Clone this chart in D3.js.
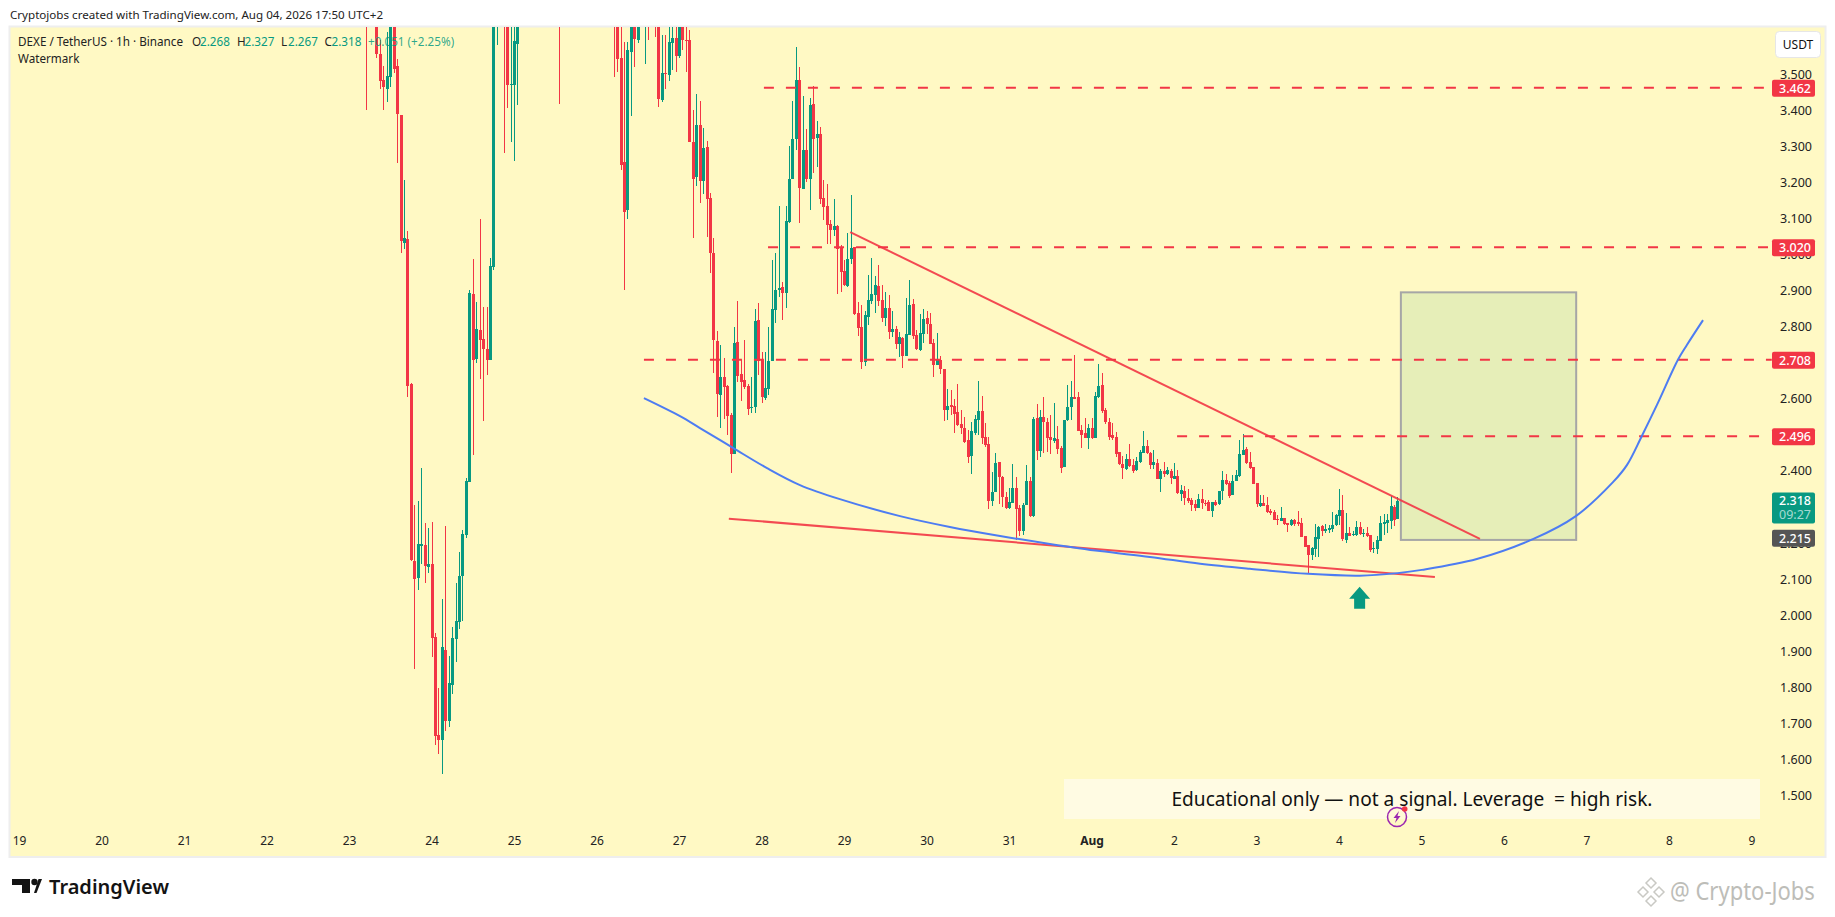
<!doctype html>
<html>
<head>
<title>DEXE / TetherUS</title>
<meta charset="UTF-8">
<script src="https://d3js.org/d3.v7.min.js"></script>
<style>
  html, body { margin: 0; padding: 0; background: #fff; overflow: hidden; }
  svg { display: block; }
  text { font-family: "Noto Sans", sans-serif; }
</style>
</head>
<body>
<script>
// hourly candles, hour 0 = Jul 19 00:00, first candle sits at hour 101
var firstHour = 101;
var opens = [
3.90,3.80,3.85,3.78,3.555,3.483,3.458,3.492,3.70,3.522,
3.386,3.032,3.043,2.641,2.151,2.103,2.192,2.195,2.134,2.142,
1.940,1.668,1.655,1.904,1.707,1.807,1.934,1.982,2.109,2.223,
2.369,2.890,2.710,2.791,2.766,2.738,2.708,2.965,3.72,3.85,
3.95,3.80,3.469,3.469,3.583,3.78,3.90,4.02,4.10,4.02,
3.96,4.06,3.98,3.92,3.98,3.90,3.84,3.76,3.86,3.94,
4.02,3.96,4.04,4.12,4.06,3.98,3.92,3.98,3.90,3.96,
3.88,3.84,3.80,3.76,3.544,3.256,3.123,3.561,3.72,3.594,
3.68,3.70,3.78,3.70,3.74,3.68,3.428,3.503,3.497,3.586,
3.600,3.550,3.66,3.594,3.594,3.312,3.215,3.359,3.204,3.298,
3.156,3.004,2.760,2.611,2.660,2.635,2.555,2.447,2.757,2.669,
2.652,2.635,2.575,2.577,2.818,2.708,2.602,2.627,2.705,2.846,
2.901,2.910,2.893,3.090,3.209,3.320,3.483,3.181,3.289,3.209,
3.417,3.323,3.334,3.156,3.134,3.084,3.068,3.079,3.018,2.954,
2.912,2.987,3.021,2.838,2.799,2.702,2.827,2.871,2.888,2.912,
2.874,2.824,2.852,2.785,2.793,2.752,2.769,2.719,2.777,2.863,
2.777,2.735,2.780,2.824,2.807,2.755,2.694,2.708,2.683,2.569,
2.583,2.580,2.563,2.530,2.519,2.486,2.442,2.505,2.541,2.566,
2.494,2.475,2.317,2.342,2.425,2.383,2.328,2.297,2.311,2.353,
2.297,2.234,2.306,2.372,2.275,2.547,2.455,2.549,2.536,2.494,
2.483,2.489,2.464,2.411,2.541,2.577,2.605,2.605,2.514,2.505,
2.491,2.519,2.491,2.605,2.638,2.569,2.536,2.500,2.494,2.453,
2.419,2.405,2.433,2.417,2.403,2.425,2.450,2.469,2.450,2.417,
2.422,2.378,2.400,2.392,2.400,2.378,2.386,2.336,2.345,2.325,
2.320,2.309,2.297,2.322,2.311,2.314,2.289,2.314,2.309,2.345,
2.375,2.367,2.333,2.372,2.386,2.444,2.461,2.425,2.411,2.367,
2.303,2.311,2.306,2.289,2.286,2.267,2.261,2.270,2.256,2.250,
2.264,2.259,2.256,2.220,2.195,2.167,2.184,2.212,2.247,2.234,
2.236,2.239,2.250,2.275,2.292,2.209,2.228,2.223,2.223,2.245,
2.225,2.228,2.223,2.184,2.184,2.206,2.253,2.256,2.261,2.300,
2.268];
var closes = [
3.80,3.85,3.78,3.555,3.481,3.464,3.494,3.70,3.514,3.389,
3.037,3.046,2.635,2.153,2.101,2.198,2.198,2.137,2.142,1.937,
1.666,1.655,1.912,1.707,1.813,1.937,1.984,2.109,2.225,2.372,
2.893,2.708,2.793,2.763,2.738,2.708,2.968,3.72,3.85,3.95,
3.80,3.469,3.472,3.591,3.78,3.90,4.02,4.10,4.02,3.96,
4.06,3.98,3.92,3.98,3.90,3.84,3.76,3.86,3.94,4.02,
3.96,4.04,4.12,4.06,3.98,3.92,3.98,3.90,3.96,3.88,
3.84,3.80,3.76,3.542,3.248,3.118,3.566,3.72,3.597,3.68,
3.76,3.78,3.70,3.74,3.68,3.431,3.503,3.500,3.589,3.600,
3.550,3.66,3.594,3.591,3.312,3.209,3.359,3.204,3.295,3.154,
3.004,2.763,2.613,2.660,2.633,2.552,2.447,2.755,2.663,2.647,
2.633,2.572,2.577,2.816,2.705,2.605,2.630,2.705,2.849,2.901,
2.907,2.893,3.093,3.209,3.320,3.483,3.184,3.289,3.209,3.414,
3.320,3.334,3.154,3.131,3.082,3.068,3.079,3.015,2.951,2.915,
2.987,3.018,2.835,2.796,2.702,2.832,2.874,2.890,2.915,2.871,
2.824,2.852,2.785,2.793,2.752,2.771,2.719,2.780,2.860,2.774,
2.738,2.782,2.821,2.807,2.752,2.694,2.710,2.683,2.569,2.580,
2.577,2.558,2.527,2.519,2.480,2.439,2.511,2.544,2.566,2.491,
2.472,2.317,2.342,2.422,2.383,2.328,2.297,2.314,2.353,2.295,
2.234,2.306,2.372,2.275,2.544,2.455,2.549,2.536,2.491,2.486,
2.491,2.461,2.408,2.541,2.577,2.605,2.599,2.511,2.500,2.491,
2.519,2.491,2.608,2.635,2.566,2.536,2.494,2.491,2.447,2.419,
2.408,2.433,2.414,2.400,2.428,2.453,2.469,2.450,2.417,2.425,
2.378,2.400,2.392,2.403,2.381,2.386,2.339,2.347,2.325,2.317,
2.306,2.297,2.322,2.311,2.309,2.289,2.314,2.306,2.345,2.375,
2.364,2.331,2.372,2.389,2.447,2.458,2.422,2.408,2.364,2.309,
2.311,2.303,2.286,2.283,2.264,2.264,2.270,2.253,2.250,2.264,
2.253,2.253,2.217,2.189,2.167,2.187,2.217,2.245,2.234,2.239,
2.242,2.250,2.278,2.292,2.212,2.228,2.220,2.225,2.245,2.225,
2.228,2.220,2.181,2.187,2.209,2.256,2.259,2.264,2.303,2.264,
2.318];
var highs = [
3.95,3.92,3.90,3.82,3.594,3.522,3.616,3.78,3.74,3.542,
3.386,3.206,3.065,2.644,2.306,2.317,2.408,2.256,2.242,2.259,
1.951,1.799,2.045,2.248,1.887,1.968,2.090,2.175,2.236,2.381,
2.901,2.987,2.868,3.098,2.854,2.854,2.990,3.80,3.92,4.02,
3.98,3.86,3.70,3.70,3.85,3.98,4.08,4.18,4.16,4.08,
4.12,4.10,4.02,4.04,4.02,3.94,3.88,3.92,4.00,4.08,
4.06,4.10,4.18,4.16,4.10,4.02,4.04,4.02,4.00,3.98,
3.92,3.88,3.84,3.80,3.70,3.589,3.589,3.80,3.76,3.74,
3.82,3.84,3.82,3.80,3.78,3.74,3.608,3.608,3.66,3.68,
3.66,3.72,3.70,3.66,3.622,3.400,3.445,3.425,3.350,3.314,
3.170,3.046,2.788,2.749,2.713,2.638,2.561,2.799,2.871,2.708,
2.763,2.641,2.660,2.849,2.865,2.730,2.730,2.799,2.985,3.004,
3.134,2.924,3.134,3.300,3.425,3.575,3.519,3.439,3.348,3.433,
3.467,3.370,3.353,3.206,3.195,3.095,3.154,3.082,3.026,2.985,
3.059,3.165,3.021,2.868,2.860,2.843,2.943,2.990,2.940,2.971,
2.915,2.896,2.888,2.843,2.802,2.785,2.771,2.879,2.929,2.877,
2.791,2.835,2.849,2.843,2.838,2.766,2.782,2.719,2.683,2.627,
2.624,2.599,2.641,2.569,2.549,2.514,2.536,2.555,2.649,2.608,
2.533,2.494,2.397,2.450,2.425,2.386,2.342,2.353,2.419,2.383,
2.306,2.311,2.417,2.383,2.549,2.586,2.569,2.605,2.547,2.555,
2.588,2.525,2.469,2.541,2.638,2.649,2.721,2.619,2.527,2.547,
2.530,2.547,2.619,2.696,2.671,2.575,2.547,2.533,2.508,2.453,
2.442,2.447,2.475,2.433,2.439,2.458,2.511,2.486,2.453,2.458,
2.433,2.405,2.425,2.411,2.405,2.422,2.403,2.361,2.358,2.350,
2.325,2.320,2.336,2.350,2.320,2.320,2.314,2.320,2.345,2.400,
2.392,2.372,2.389,2.403,2.486,2.502,2.466,2.453,2.411,2.367,
2.333,2.333,2.328,2.295,2.292,2.278,2.300,2.270,2.256,2.267,
2.267,2.289,2.270,2.220,2.195,2.189,2.253,2.247,2.250,2.253,
2.250,2.286,2.281,2.350,2.333,2.283,2.245,2.234,2.261,2.259,
2.239,2.245,2.223,2.203,2.220,2.275,2.281,2.281,2.331,2.306,
2.327];
var lows = [
3.400,3.72,3.70,3.544,3.458,3.400,3.422,3.464,3.503,3.253,
3.004,3.015,2.605,2.150,1.851,2.070,2.142,2.090,2.117,1.885,
1.641,1.616,1.560,1.680,1.691,1.782,1.871,1.962,1.984,2.214,
2.369,2.444,2.699,2.655,2.538,2.666,2.708,2.957,3.580,3.78,
3.281,3.406,3.312,3.259,3.414,3.72,3.85,3.96,3.94,3.90,
3.92,3.90,3.84,3.86,3.82,3.76,3.417,3.70,3.80,3.88,
3.90,3.90,3.98,4.00,3.92,3.86,3.86,3.84,3.84,3.82,
3.78,3.74,3.492,3.505,3.234,2.901,3.098,3.384,3.519,3.586,
3.64,3.528,3.594,3.64,3.602,3.409,3.422,3.458,3.481,3.511,
3.505,3.544,3.566,3.505,3.312,3.046,3.190,3.142,3.167,3.048,
2.949,2.672,2.549,2.519,2.544,2.500,2.394,2.447,2.647,2.594,
2.627,2.555,2.561,2.561,2.666,2.588,2.597,2.611,2.705,2.810,
2.882,2.818,2.852,3.087,3.209,3.289,3.087,3.181,3.201,3.123,
3.226,3.242,3.140,3.095,3.029,3.029,3.051,2.890,2.896,2.912,
2.910,2.973,2.832,2.774,2.683,2.691,2.804,2.863,2.838,2.857,
2.813,2.802,2.766,2.771,2.738,2.716,2.685,2.719,2.777,2.766,
2.735,2.732,2.755,2.780,2.752,2.660,2.694,2.669,2.538,2.541,
2.555,2.505,2.525,2.502,2.478,2.422,2.392,2.500,2.500,2.475,
2.466,2.295,2.303,2.342,2.309,2.300,2.295,2.295,2.311,2.209,
2.220,2.223,2.306,2.272,2.272,2.430,2.439,2.450,2.453,2.447,
2.478,2.447,2.394,2.411,2.538,2.541,2.599,2.511,2.464,2.491,
2.461,2.489,2.491,2.602,2.561,2.530,2.486,2.486,2.439,2.417,
2.378,2.403,2.411,2.394,2.400,2.422,2.450,2.447,2.405,2.405,
2.378,2.342,2.383,2.389,2.364,2.378,2.336,2.317,2.306,2.311,
2.289,2.289,2.297,2.295,2.303,2.289,2.272,2.303,2.306,2.320,
2.361,2.325,2.333,2.372,2.383,2.444,2.419,2.405,2.364,2.300,
2.300,2.303,2.283,2.278,2.264,2.250,2.261,2.250,2.231,2.247,
2.247,2.247,2.217,2.189,2.117,2.153,2.161,2.161,2.220,2.228,
2.228,2.231,2.247,2.250,2.206,2.200,2.220,2.220,2.220,2.223,
2.217,2.217,2.175,2.173,2.170,2.206,2.223,2.228,2.239,2.247,
2.267];

var dayLabels = ["19","20","21","22","23","24","25","26","27","28","29","30","31","Aug","2","3","4","5","6","7","8","9"];
// 2.7, 2.5 and 2.3 sit fully behind the price tags
var priceTicks = [3.5,3.4,3.3,3.2,3.1,3.0,2.9,2.8,2.6,2.4,2.2,2.1,2.0,1.9,1.8,1.7,1.6,1.5];

// drawn objects: hour, price
var curveHours  = [181.8,192.3,198.1,207.7,217.6,227.2,238.8,256.3,270.8,285.4,299.9,314.5,329,343.6,358,375,390,401,408.1,424.1,440.4,452.9,463.7,467.8,472.1,476.5,482.6,485.2,489.9];
var curvePrices = [2.602,2.552,2.519,2.464,2.408,2.361,2.322,2.275,2.245,2.220,2.198,2.178,2.162,2.143,2.129,2.115,2.110,2.117,2.126,2.156,2.211,2.275,2.369,2.417,2.497,2.583,2.708,2.749,2.818];
var upperTrendHours = [241.8,425], upperTrendPrices = [3.062,2.212];
var lowerTrendHours = [206.5,411.9], lowerTrendPrices = [2.268,2.106];
var levelPrices = [3.462,3.020,2.708,2.496];
var levelStarts = [216.7,217.9,181.8,336.9];
var levelEnds   = [507.6,508.8,509.9,506.2];
var zoneHours = [402,453], zonePrices = [2.895,2.209];

var green = "#089981", red = "#F23645", paneColor = "#FFF9C4";

var svg = d3.select("body").append("svg").attr("width",1835).attr("height",917);

var x = d3.scaleLinear().domain([0,504]).range([19,1751.5]);
var y = d3.scaleLinear().domain([3.5,1.5]).range([74,795.8]);

svg.append("rect").attr("width",1835).attr("height",917).attr("fill","#fff");
svg.append("rect").attr("x",9.5).attr("y",26.5).attr("width",1816).attr("height",830.5)
  .attr("fill",paneColor).attr("stroke","#eeeeee").attr("stroke-width",2);
svg.append("clipPath").attr("id","pane").append("rect").attr("x",10).attr("y",27).attr("width",1762).attr("height",829);

// header
svg.append("text").attr("x",10).attr("y",19).attr("font-size",11.6).attr("fill","#222").text("Cryptojobs created with TradingView.com, Aug 04, 2026 17:50 UTC+2");

var chart = svg.append("g").attr("clip-path","url(#pane)");

// target zone
chart.append("rect")
  .attr("x",x(zoneHours[0])).attr("y",y(zonePrices[0]))
  .attr("width",x(zoneHours[1])-x(zoneHours[0])).attr("height",y(zonePrices[1])-y(zonePrices[0]))
  .attr("fill","#E6EEB8").attr("stroke","#A6A6A6").attr("stroke-width",2);

// candles
var candles = d3.range(opens.length).map(function(i){
  return {hour:firstHour+i, o:opens[i], h:highs[i], l:lows[i], c:closes[i]};
});
function candleColor(d){ return d.c>=d.o ? green : red; }
var candle = chart.append("g").attr("shape-rendering","crispEdges").selectAll("g").data(candles).enter().append("g");
candle.append("rect")
  .attr("x",function(d){ return Math.round(x(d.hour))-0.5; })
  .attr("y",function(d){ return y(d.h); })
  .attr("width",1)
  .attr("height",function(d){ return y(d.l)-y(d.h); })
  .attr("fill",candleColor);
candle.append("rect")
  .attr("x",function(d){ return Math.round(x(d.hour))-1.5; })
  .attr("y",function(d){ return y(Math.max(d.o,d.c)); })
  .attr("width",3)
  .attr("height",function(d){ return Math.max(1,Math.abs(y(d.o)-y(d.c))); })
  .attr("fill",candleColor);

// dashed levels
var line = d3.line().x(function(d){ return x(d[0]); }).y(function(d){ return y(d[1]); });
levelPrices.forEach(function(p,i){
  chart.append("path").attr("d",line([[levelStarts[i],p],[levelEnds[i],p]]))
    .attr("fill","none").attr("stroke",red).attr("stroke-width",2).attr("stroke-dasharray","10 12");
});

// trend lines
[[upperTrendHours,upperTrendPrices],[lowerTrendHours,lowerTrendPrices]].forEach(function(t){
  chart.append("path").attr("d",line(d3.zip(t[0],t[1])))
    .attr("fill","none").attr("stroke",red).attr("stroke-width",2).attr("opacity",0.9);
});

// projected curve
chart.append("path").attr("d",line.curve(d3.curveCatmullRom)(d3.zip(curveHours,curvePrices)))
  .attr("fill","none").attr("stroke","#4D7CF2").attr("stroke-width",2);
line.curve(d3.curveLinear);

// arrow marker
var arrowX = x(390), arrowY = y(2.079);
svg.append("path")
  .attr("d","M0,0 L10.5,12 L5.5,12 L5.5,22 L-5.5,22 L-5.5,12 L-10.5,12 Z")
  .attr("transform","translate("+arrowX+","+arrowY+")")
  .attr("fill",green);

// note banner
svg.append("rect").attr("x",1064).attr("y",779).attr("width",696).attr("height",40).attr("fill","#FFFBE3");
svg.append("text").attr("x",1412).attr("y",806).attr("text-anchor","middle").attr("font-size",19.1).attr("fill","#111")
  .attr("xml:space","preserve").style("white-space","pre").text("Educational only \u2014 not a signal. Leverage  = high risk.");

// lightning badge
var badge = svg.append("g").attr("transform","translate(1397,817)");
badge.append("circle").attr("r",9.5).attr("fill",paneColor).attr("fill-opacity",0.4).attr("stroke","#9C27B0").attr("stroke-width",1.5);
badge.append("path").attr("d","M2,-6 L-3.5,1 L-0.5,1 L-2,6 L3.5,-1 L0.5,-1 Z").attr("fill","#9C27B0");
badge.append("circle").attr("cx",7.7).attr("cy",-8).attr("r",2.8).attr("fill",red);

// axes
var yAxis = d3.axisRight(y).tickValues(priceTicks).tickSize(0).tickPadding(0).tickFormat(d3.format(".3f"));
var yG = svg.append("g").attr("transform","translate(1780,0)").call(yAxis);
yG.select(".domain").remove();
yG.selectAll("text").attr("font-family","Noto Sans").attr("font-size",12.5).attr("fill","#222");

var xAxis = d3.axisBottom(x).tickValues(dayLabels.map(function(d,i){ return i*24; })).tickSize(0).tickPadding(0)
  .tickFormat(function(d){ return dayLabels[d/24]; });
var xG = svg.append("g").attr("transform","translate(0,836)").call(xAxis);
xG.select(".domain").remove();
xG.selectAll("text").attr("font-family","Noto Sans").attr("font-size",12).attr("fill","#222")
  .attr("font-weight",function(d){ return d/24===13 ? "700" : "400"; });

// USDT button
svg.append("rect").attr("x",1775.5).attr("y",31.5).attr("width",45).attr("height",26).attr("rx",4).attr("fill","#fff").attr("stroke","#e6e6e6");
svg.append("text").attr("x",1798).attr("y",49).attr("text-anchor","middle").attr("font-size",12).attr("fill","#111").text("USDT");

// price tags
var tagPrices = [3.462,3.020,2.708,2.496];
tagPrices.forEach(function(p){
  svg.append("rect").attr("x",1772).attr("y",y(p)-8).attr("width",43).attr("height",17).attr("rx",2).attr("fill",red);
  svg.append("text").attr("x",1795).attr("y",y(p)+5).attr("text-anchor","middle").attr("font-size",12.5).attr("font-weight",500).attr("fill","#fff").text(d3.format(".3f")(p));
});
var lastPrice = 2.318, countdown = "09:27", boxPrice = 2.215;
svg.append("rect").attr("x",1772).attr("y",y(lastPrice)-8).attr("width",43).attr("height",31).attr("rx",2).attr("fill",green);
svg.append("text").attr("x",1795).attr("y",y(lastPrice)+4.5).attr("text-anchor","middle").attr("font-size",12.5).attr("font-weight",500).attr("fill","#fff").text(d3.format(".3f")(lastPrice));
svg.append("text").attr("x",1795).attr("y",y(lastPrice)+18).attr("text-anchor","middle").attr("font-size",12.5).attr("fill","#fff").attr("fill-opacity",0.65).text(countdown);
svg.append("rect").attr("x",1772).attr("y",y(boxPrice)-8).attr("width",43).attr("height",17).attr("rx",2).attr("fill","#555");
svg.append("text").attr("x",1795).attr("y",y(boxPrice)+5).attr("text-anchor","middle").attr("font-size",12.5).attr("font-weight",500).attr("fill","#fff").text(d3.format(".3f")(boxPrice));

// legend
var legendO = "2.268", legendH = "2.327", legendL = "2.267", legendC = "2.318", legendChange = "+0.051 (+2.25%)";
var legend = svg.append("g").attr("font-size",11.7);
legend.append("text").attr("x",18).attr("y",46).attr("fill","#222").text("DEXE / TetherUS \u00b7 1h \u00b7 Binance");
[["O",192,200,legendO],["H",237,244.5,legendH],["L",281,288,legendL],["C",324.5,331.5,legendC]].forEach(function(r){
  legend.append("text").attr("x",r[1]).attr("y",46).attr("fill","#222").text(r[0]);
  legend.append("text").attr("x",r[2]).attr("y",46).attr("fill",green).text(r[3]);
});
legend.append("text").attr("x",368).attr("y",46).attr("fill",green).attr("fill-opacity",0.85).text(legendChange);
legend.append("text").attr("x",18).attr("y",63).attr("fill","#222").text("Watermark");

// TradingView logo
var logo = svg.append("g").attr("fill","#131313");
logo.append("path").attr("d","M12,879 H30 V893 H22 V885 H12 Z");
logo.append("circle").attr("cx",34.5).attr("cy",882).attr("r",3.2);
logo.append("path").attr("d","M34,893 L38.5,879 H42 L36.5,893 Z");
svg.append("text").attr("x",49).attr("y",894).attr("font-family","Inter").attr("font-weight",600).attr("font-size",20).attr("fill","#131313").text("TradingView");

// page watermark
var wm = svg.append("g").attr("transform","translate(1651,892)").attr("fill","none").attr("stroke","#c9c9c4").attr("stroke-width",1.5);
[[0,-9],[-8,0],[8,0],[0,9]].forEach(function(c){
  wm.append("path").attr("d","M0,-5 L5,0 L0,5 L-5,0 Z").attr("transform","translate("+c[0]+","+c[1]+")");
});
svg.append("text").attr("transform","translate(1670,900) scale(0.88,1)").attr("font-size",25).attr("fill","#bdbdb8").text("@ Crypto-Jobs");
</script>
</body>
</html>
